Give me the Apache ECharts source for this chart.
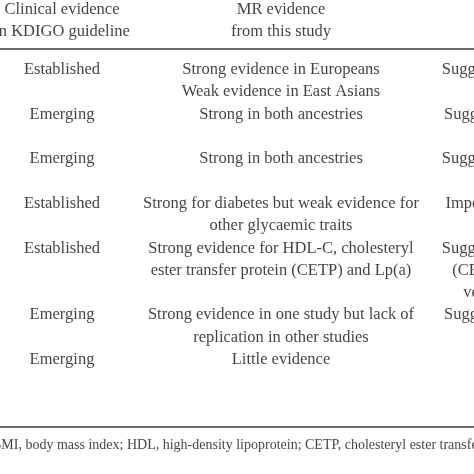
<!DOCTYPE html>
<html><head><meta charset="utf-8">
<script src="https://cdn.jsdelivr.net/npm/echarts@6/dist/echarts.min.js"></script>
<style>html,body{margin:0;padding:0;background:#fff}#c{width:474px;height:474px}</style>
</head><body><div id="c"></div>
<script>
const headers = ["Clinical evidence\nin KDIGO guideline", "MR evidence\nfrom this study", ""];
const clinical = ["Established", "Emerging", "Emerging", "Established", "Established", "Emerging", "Emerging"];
const mrEvidence = [
  "Strong evidence in Europeans\nWeak evidence in East Asians",
  "Strong in both ancestries",
  "Strong in both ancestries",
  "Strong for diabetes but weak evidence for\nother glycaemic traits",
  "Strong evidence for HDL-C, cholesteryl\nester transfer protein (CETP) and Lp(a)",
  "Strong evidence in one study but lack of\nreplication in other studies",
  "Little evidence"
];
const third = ["Suggestive", "Suggested", "Suggestive", "Important", "Suggestive\n(CETP)\nvery", "Suggested", ""];
const rowLines = [2, 2, 2, 2, 3, 2, 1];
const footnote = "BMI, body mass index; HDL, high-density lipoprotein; CETP, cholesteryl ester transfer protein.";

const LH = 22.3;
const colX = [62, 281, 478];
const starts = [];
let s = 0;
rowLines.forEach(n => { starts.push(s); s += n; });
const FONT = "'Liberation Serif', 'DejaVu Serif', serif";

function cells(texts, col) {
  return texts.map((t, i) => {
    const n = t.split("\n").length;
    return { value: [colX[col], starts[i] + (n - 1) / 2 + 0.08], text: t };
  });
}
function textSeries(data, extra) {
  return Object.assign({
    type: "scatter", symbolSize: 0, silent: true, clip: false, data: data,
    label: { show: true, position: "inside", formatter: p => p.data.text,
      fontFamily: FONT, fontSize: 16.5, color: "#111", lineHeight: LH, align: "center" }
  }, extra || {});
}
const headerData = headers.map((t, i) => ({ value: [colX[i], -2.12], text: t }));
const chart = echarts.init(document.getElementById("c"));
chart.setOption({
  animation: false,
  grid: { left: 0, right: 0, top: 0, bottom: 0 },
  xAxis: { type: "value", min: 0, max: 474, show: false },
  yAxis: { type: "value", inverse: true, min: -68 / LH, max: (474 - 68) / LH, show: false },
  series: [
    textSeries(headerData, {
      markLine: { silent: true, symbol: "none", label: { show: false },
        lineStyle: { color: "#6a6a6a", width: 2, type: "solid" },
        data: [{ yAxis: -19 / LH }, { yAxis: (427 - 68) / LH }] }
    }),
    textSeries(cells(clinical, 0)),
    textSeries(cells(mrEvidence, 1)),
    textSeries(cells(third, 2)),
    textSeries([{ value: [-8, (445 - 68) / LH], text: footnote }], {
      label: { show: true, position: "inside", formatter: p => p.data.text,
        fontFamily: FONT, fontSize: 14, color: "#111", align: "left" } })
  ]
});
</script></body></html>
